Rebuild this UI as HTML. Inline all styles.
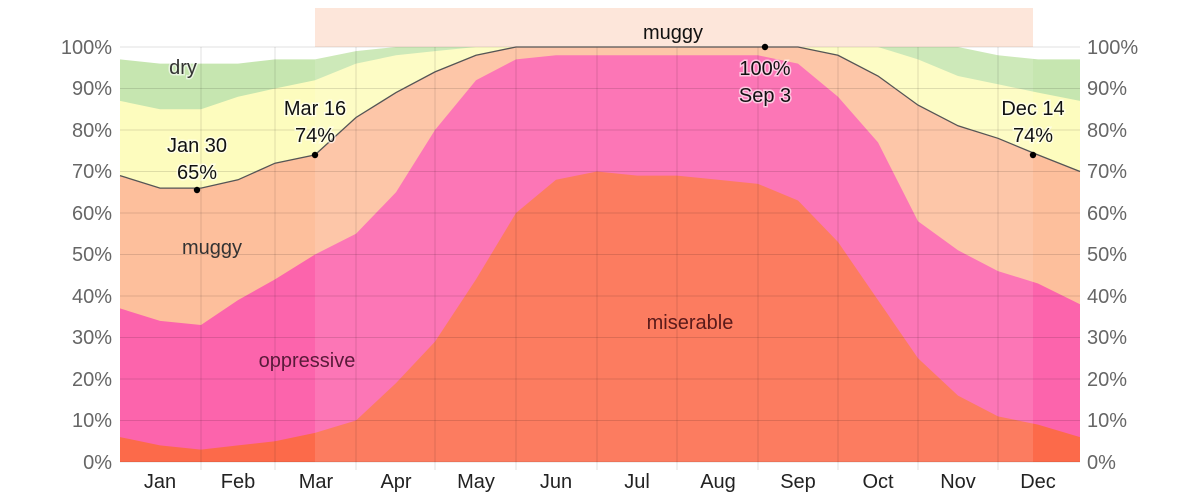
<!DOCTYPE html>
<html><head><meta charset="utf-8"><style>
html,body{margin:0;padding:0;background:#fff;width:1200px;height:497px;overflow:hidden}
svg{display:block;font-family:"Liberation Sans",sans-serif}
.h{paint-order:stroke;stroke:#fff;stroke-opacity:0.6;stroke-width:3px}
</style></head><body>
<svg id="s" width="1200" height="497" viewBox="0 0 1200 497">
<rect x="315" y="8" width="718" height="39" fill="#fde6da"/>
<g id="areas"></g>
<rect x="315" y="47" width="718" height="415" fill="#fff" opacity="0.12"/>
<g id="grid" stroke="#000" stroke-opacity="0.12" stroke-width="1"></g>
<path id="line" fill="none" stroke="#555" stroke-width="1.3"/>
<g fill="#666" font-size="20" text-anchor="end">
<text x="112" y="54">100%</text><text x="112" y="95">90%</text><text x="112" y="137">80%</text><text x="112" y="178">70%</text><text x="112" y="220">60%</text><text x="112" y="261">50%</text><text x="112" y="303">40%</text><text x="112" y="344">30%</text><text x="112" y="386">20%</text><text x="112" y="427">10%</text><text x="112" y="469">0%</text>
</g>
<g fill="#666" font-size="20">
<text x="1087" y="54">100%</text><text x="1087" y="95">90%</text><text x="1087" y="137">80%</text><text x="1087" y="178">70%</text><text x="1087" y="220">60%</text><text x="1087" y="261">50%</text><text x="1087" y="303">40%</text><text x="1087" y="344">30%</text><text x="1087" y="386">20%</text><text x="1087" y="427">10%</text><text x="1087" y="469">0%</text>
</g>
<g fill="#222" font-size="20" text-anchor="middle">
<text x="160" y="488">Jan</text><text x="238" y="488">Feb</text><text x="316" y="488">Mar</text><text x="396" y="488">Apr</text><text x="476" y="488">May</text><text x="556" y="488">Jun</text><text x="637" y="488">Jul</text><text x="718" y="488">Aug</text><text x="798" y="488">Sep</text><text x="878" y="488">Oct</text><text x="958" y="488">Nov</text><text x="1038" y="488">Dec</text>
</g>
<g font-size="20" text-anchor="middle" fill="#111">
<text class="h" x="183" y="74" fill="#333">dry</text>
<text x="673" y="39">muggy</text>
<text class="h" x="197" y="152">Jan 30</text><text class="h" x="197" y="179">65%</text>
<text class="h" x="315" y="115">Mar 16</text><text class="h" x="315" y="142">74%</text>
<text class="h" x="765" y="75">100%</text><text class="h" x="765" y="102">Sep 3</text>
<text class="h" x="1033" y="115">Dec 14</text><text class="h" x="1033" y="142">74%</text>
<text x="212" y="254" fill="#333">muggy</text>
<text x="307" y="367" fill="#5a1a3a">oppressive</text>
<text x="690" y="329" fill="#5a1a1a">miserable</text>
</g>
<g fill="#000"><circle cx="197" cy="190" r="3.2"/><circle cx="315" cy="155" r="3.2"/><circle cx="765" cy="47" r="3.2"/><circle cx="1033" cy="155" r="3.2"/></g>
</svg>
<script>
var X=[120,160,201,238,275,315,356,396,435,476,516,556,597,637,677,718,758,798,838,878,918,958,998,1038,1080];
var mis=[6,4,3,4,5,7,10,19,29,44,60,68,70,69,69,68,67,63,53,39,25,16,11,9,6];
var opp=[37,34,33,39,44,50,55,65,80,92,97,98,98,98,98,98,98,96,88,77,58,51,46,43,38];
var mug=[69,66,66,68,72,74,83,89,94,98,100,100,100,100,100,100,100,100,98,93,86,81,78,74,70];
var com=[87,85,85,88,90,92,96,98,99,100,100,100,100,100,100,100,100,100,100,100,97,93,91,89,87];
var dry=[97,96,96,96,97,97,99,100,100,100,100,100,100,100,100,100,100,100,100,100,100,100,98,97,97];
var top=X.map(function(){return 100});
function Y(p){return 462-4.15*p}
function pts(a){return X.map(function(x,i){return x+','+Y(a[i]).toFixed(1)})}
var layers=[[top,'#e2eef5'],[dry,'#c6e6b0'],[com,'#fdfcbe'],[mug,'#fdbf9c'],[opp,'#fc64ac'],[mis,'#fc6a4a']];
var g=document.getElementById('areas'),h='';
layers.forEach(function(l){h+='<polygon fill="'+l[1]+'" points="120,462 '+pts(l[0]).join(' ')+' 1080,462"/>'});
g.innerHTML=h;
document.getElementById('line').setAttribute('d','M'+pts(mug).join(' L'));
var gr='';
[201,275,356,435,516,597,677,758,838,918,998].forEach(function(x){gr+='<line x1="'+x+'" y1="47" x2="'+x+'" y2="470"/>'});
for(var p=0;p<=100;p+=10){var y=Y(p);gr+='<line x1="120" y1="'+y+'" x2="1080" y2="'+y+'"/>'}
document.getElementById('grid').innerHTML=gr;
</script>
</body></html>
